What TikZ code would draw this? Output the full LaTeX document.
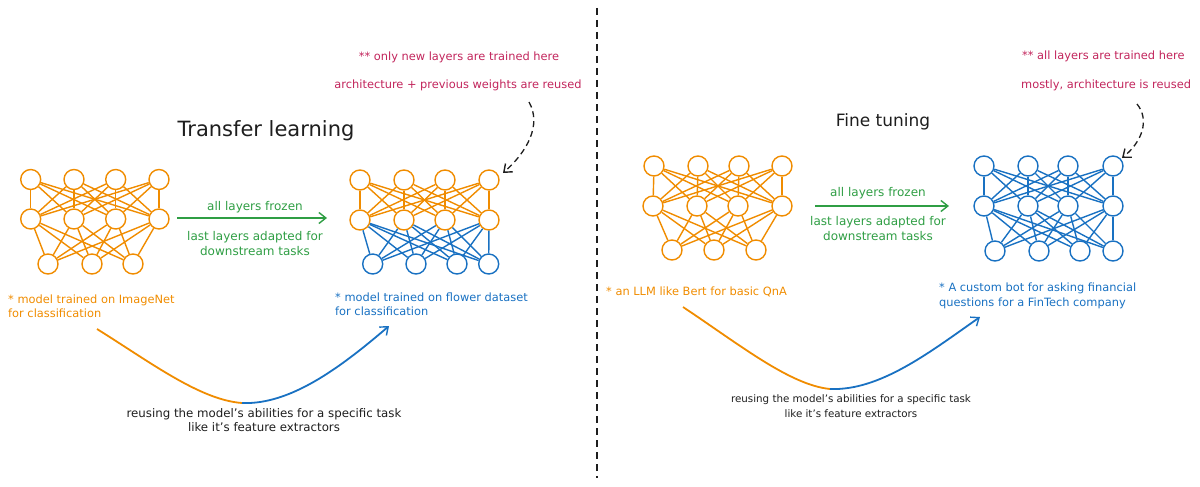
\documentclass[tikz,border=0pt]{standalone}
\usepackage{fontspec}
\setmainfont{DejaVu Sans}
\usetikzlibrary{arrows.meta}
\definecolor{ora}{HTML}{F08C00}
\definecolor{blu}{HTML}{1971C2}
\definecolor{grn}{HTML}{2F9E44}
\definecolor{crim}{HTML}{C2255C}
\definecolor{ink}{HTML}{1E1E1E}
\newcommand{\apo}{\char"0027\relax}
\begin{document}
\begin{tikzpicture}[x=1pt,y=-1pt,
  neuron/.style={circle,draw,line width=1.4pt,minimum size=20pt,inner sep=0pt},
  edge/.style={line width=1.4pt},
  txt/.style={font=\fontsize{11.4}{14}\selectfont,inner sep=0pt},
  gtxt/.style={txt,grn,font=\fontsize{12}{15}\selectfont},
  lbl/.style={txt,align=left,anchor=west},
  barb/.style={-{Straight Barb[length=7pt,width=11pt,line width=1.4pt]}},
  dasharrow/.style={ink,line width=1.3pt,dash pattern=on 6pt off 4pt,barb},
  greenarrow/.style={grn,line width=1.6pt,barb},
  reuse/.style={line width=1.8pt}]
\useasboundingbox (0,0) rectangle (1200,487);

% divider
\coordinate (d1) at (597,8);
\coordinate (d2) at (597,478);
\draw[ink,line width=1.4pt,dash pattern=on 7pt off 5pt] (d1) -- (d2);

% ===================== LEFT PANEL =====================
\node[txt,font=\fontsize{21}{24}\selectfont,ink] (t1) at (266,131) {Transfer learning};
\node[txt,crim] (r1) at (459,57) {** only new layers are trained here};
\node[txt,crim] (r2) at (458,85) {architecture + previous weights are reused};

% network 1
\foreach \x [count=\i] in {30.7,74,115.7,159} \node[neuron,ora] (la\i) at (\x,179.5) {};
\foreach \x [count=\i] in {30.7,74,115.7,159} \node[neuron,ora] (lb\i) at (\x,219) {};
\foreach \x [count=\i] in {48,92,133} \node[neuron,ora] (lc\i) at (\x,264) {};
\foreach \i in {1,...,4} \foreach \j in {1,...,4} \draw[edge,ora] (la\i) -- (lb\j);
\foreach \i in {1,...,4} \foreach \j in {1,...,3} \draw[edge,ora] (lb\i) -- (lc\j);

% network 2
\foreach \x [count=\i] in {360,404,445,489} \node[neuron,ora] (ra\i) at (\x,180) {};
\foreach \x [count=\i] in {360,404,445,489} \node[neuron,ora] (rb\i) at (\x,220) {};
\foreach \x [count=\i] in {372.7,416,457,488.7} \node[neuron,blu] (rc\i) at (\x,264) {};
\foreach \i in {1,...,4} \foreach \j in {1,...,4} \draw[edge,ora] (ra\i) -- (rb\j);
\foreach \i in {1,...,4} \foreach \j in {1,...,4} \draw[edge,blu] (rb\i) -- (rc\j);

% green arrow
\coordinate (g1s) at (177,218);
\coordinate (g1e) at (327,218);
\draw[greenarrow] (g1s) -- (g1e);
\node[gtxt] (g1a) at (255,207) {all layers frozen};
\node[gtxt,align=center] (g1b) at (255,243.5) {last layers adapted for\\downstream tasks};

% dashed annotation arrow
\coordinate (k1s) at (529,102);
\coordinate (k1e) at (503,173);
\draw[dasharrow] (k1s) .. controls (542,125) and (527,152) .. (k1e);

% labels
\node[lbl,ora] (o1) at (8,306) {* model trained on ImageNet\\for classification};
\node[lbl,blu] (b1) at (335,304) {* model trained on flower dataset\\for classification};

% reuse curve
\coordinate (c1s) at (97,329);
\coordinate (c1m) at (242,403);
\coordinate (c1e) at (389,326);
\draw[reuse,ora] (c1s) .. controls (150,362) and (200,400) .. (c1m);
\draw[reuse,blu,barb] (c1m) .. controls (290,405) and (340,368) .. (c1e);
\node[txt,ink,align=center,font=\fontsize{11.8}{14}\selectfont] (u1) at (264,420) {reusing the model\apo s abilities for a specific task\\like it\apo s feature extractors};

% ===================== RIGHT PANEL =====================
\node[txt,font=\fontsize{17}{20}\selectfont,ink] (t2) at (883,122) {Fine tuning};
\node[txt,crim,anchor=west] (r3) at (1022,56) {** all layers are trained here};
\node[txt,crim,anchor=west] (r4) at (1021,85) {mostly, architecture is reused};

% network 3
\foreach \x [count=\i] in {654,698,739,782} \node[neuron,ora] (ta\i) at (\x,166) {};
\foreach \x [count=\i] in {653,697,738,782} \node[neuron,ora] (tb\i) at (\x,206) {};
\foreach \x [count=\i] in {672,714,756} \node[neuron,ora] (tc\i) at (\x,250) {};
\foreach \i in {1,...,4} \foreach \j in {1,...,4} \draw[edge,ora] (ta\i) -- (tb\j);
\foreach \i in {1,...,4} \foreach \j in {1,...,3} \draw[edge,ora] (tb\i) -- (tc\j);

% network 4
\foreach \x [count=\i] in {984,1028,1068,1113} \node[neuron,blu] (ua\i) at (\x,166) {};
\foreach \x [count=\i] in {984,1028,1068,1113} \node[neuron,blu] (ub\i) at (\x,206) {};
\foreach \x [count=\i] in {995,1039,1080,1113} \node[neuron,blu] (uc\i) at (\x,251) {};
\foreach \i in {1,...,4} \foreach \j in {1,...,4} \draw[edge,blu] (ua\i) -- (ub\j);
\foreach \i in {1,...,4} \foreach \j in {1,...,4} \draw[edge,blu] (ub\i) -- (uc\j);

% green arrow
\coordinate (g2s) at (815,206);
\coordinate (g2e) at (949,206);
\draw[greenarrow] (g2s) -- (g2e);
\node[gtxt] (g2a) at (878,193) {all layers frozen};
\node[gtxt,align=center] (g2b) at (878,229) {last layers adapted for\\downstream tasks};

% dashed annotation arrow
\coordinate (k2s) at (1137,104);
\coordinate (k2e) at (1122,158);
\draw[dasharrow] (k2s) .. controls (1150,120) and (1142,142) .. (k2e);

% labels
\node[lbl,ora] (o2) at (606,292) {* an LLM like Bert for basic QnA};
\node[lbl,blu,font=\fontsize{11.4}{15}\selectfont] (b2) at (939,295.5) {* A custom bot for asking financial\\questions for a FinTech company};

% reuse curve
\coordinate (c2s) at (683,307);
\coordinate (c2m) at (830,389);
\coordinate (c2e) at (980,317);
\draw[reuse,ora] (c2s) .. controls (740,345) and (790,385) .. (c2m);
\draw[reuse,blu,barb] (c2m) .. controls (880,391) and (930,352) .. (c2e);
\node[txt,ink,align=center,font=\fontsize{10.3}{15}\selectfont] (u2) at (851,406.5) {reusing the model\apo s abilities for a specific task\\like it\apo s feature extractors};
\end{tikzpicture}
\end{document}
